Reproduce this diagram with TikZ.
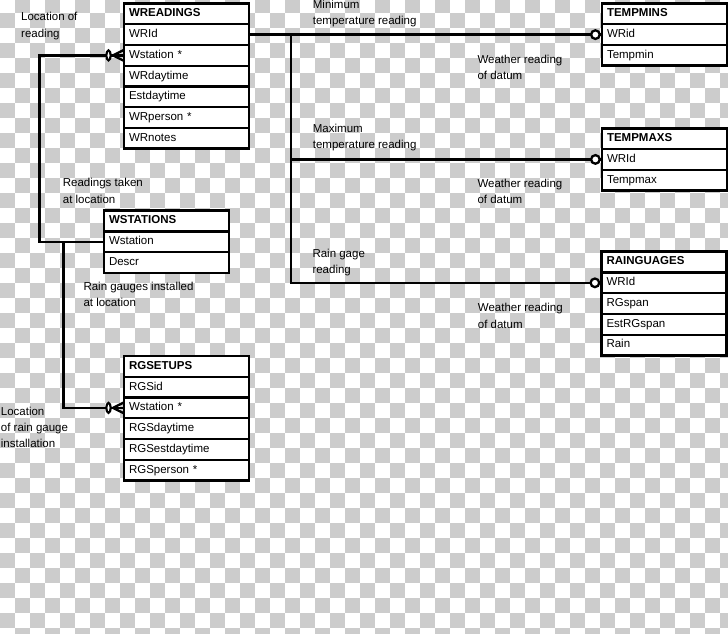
\documentclass[tikz,border=0pt]{standalone}
\usepackage{fontspec}
\setmainfont{Liberation Sans}
\definecolor{chk}{RGB}{204,204,204}
% #1 name, #2 x left, #3 y top, #4 header, #5 rows, #6 number of rows
\newcommand{\ertable}[6]{%
  \node[hdr] (#1-0) at (#2,#3) {#4};
  \foreach \t [count=\i] in {#5} {
    \node[cell] (#1-\i) at ({#2},{#3+\i*20.75}) {\t};
  }
  \draw[tblframe] (#1-0.north west) rectangle (#1-#6.south east);
}
\newcommand{\lines}[1]{\begin{tabular}[t]{@{}l@{}}#1\end{tabular}}
\begin{document}
\begin{tikzpicture}[x=1pt,y=-1pt,
  cell/.style={draw, line width=2.1pt, fill=white, anchor=north west, outer sep=0pt,
    minimum width=125pt, minimum height=20.75pt, text width=115pt, inner xsep=5pt,
    inner ysep=0pt, align=left, text height=8.3pt, text depth=2.5pt,
    font=\fontsize{11.5}{13}\selectfont},
  hdr/.style={cell, font=\fontsize{11.5}{13}\selectfont\bfseries},
  tblframe/.style={draw, line width=2.8pt},
  conn/.style={line width=2.4pt},
  ringmark/.style={line width=2.3pt, fill=white},
  lbl/.style={anchor=base west, inner sep=0pt, font=\fontsize{11.5}{16.4}\selectfont},
]
\useasboundingbox (0,0) rectangle (728,634);
% transparency checkerboard
\begin{scope}
  \clip (0,0) rectangle (728,634);
  \foreach \r in {0,...,42}{
    \pgfmathtruncatemacro{\s}{mod(\r+1,2)}
    \foreach \c in {0,...,24}{
      \fill[chk] ({(2*\c+\s)*15},{12.7+15*(\r-1)}) rectangle ++(15,15);
    }
  }
\end{scope}

% tables
\ertable{wr}{124}{3.5}{WREADINGS}{WRId, Wstation *, WRdaytime, Estdaytime, WRperson *, WRnotes}{6}
\ertable{tmin}{602}{3.5}{TEMPMINS}{WRid, Tempmin}{2}
\ertable{tmax}{602}{128.3}{TEMPMAXS}{WRId, Tempmax}{2}
\ertable{rain}{601.5}{251.7}{RAINGUAGES}{WRId, RGspan, EstRGspan, Rain}{4}
\ertable{ws}{104}{210.7}{WSTATIONS}{Wstation, Descr}{2}
\ertable{rg}{124}{356}{RGSETUPS}{RGSid, Wstation *, RGSdaytime, RGSestdaytime, RGSperson *}{5}

% connectors right side
\coordinate (jr) at ([xshift=42pt]wr-1.east);
\draw[conn] (wr-1.east) -- (tmin-1.west);
\draw[conn] (jr) |- (rain-1.west);
\draw[conn] (jr |- tmax-1.west) -- (tmax-1.west);
\foreach \n in {tmin-1, tmax-1, rain-1}{
  \draw[ringmark] ([xshift=-6.6pt]\n.west) circle [radius=4.3pt];
}

% connectors left side
\draw[conn] (ws-1.west) -| ([xshift=-84.5pt]wr-2.west) -- (wr-2.west);
\coordinate (jws) at ([xshift=-40.5pt]ws-1.west);
\draw[conn] (jws) |- (rg-2.west);
\foreach \n in {wr-2, rg-2}{
  \coordinate (cf) at ([xshift=-11pt]\n.west);
  \draw[conn] (cf) -- ([yshift=5.5pt]\n.west);
  \draw[conn] (cf) -- ([yshift=-5.5pt]\n.west);
  \draw[line width=2.2pt, fill=white] ([xshift=-15.5pt]\n.west) ellipse [x radius=2.2pt, y radius=4.9pt];
}

% labels
\node[lbl] (l1) at (21,20.7) {\lines{Location of\\reading}};
\node[lbl] (l2) at (312.7,8.3) {\lines{Minimum\\temperature reading}};
\node[lbl] (l3) at (477.3,63.3) {\lines{Weather reading\\of datum}};
\node[lbl] (l4) at (312.7,132.3) {\lines{Maximum\\temperature reading}};
\node[lbl] (l5) at (477.3,187.3) {\lines{Weather reading\\of datum}};
\node[lbl] (l6) at (312.3,257.3) {\lines{Rain gage\\reading}};
\node[lbl] (l7) at (477.7,311.7) {\lines{Weather reading\\of datum}};
\node[lbl] (l8) at (62.7,186.7) {\lines{Readings taken\\at location}};
\node[lbl] (l9) at (83.3,290) {\lines{Rain gauges installed\\at location}};
\node[lbl] (l10) at (0.7,415) {\lines{Location\\of rain gauge\\installation}};
\end{tikzpicture}
\end{document}
